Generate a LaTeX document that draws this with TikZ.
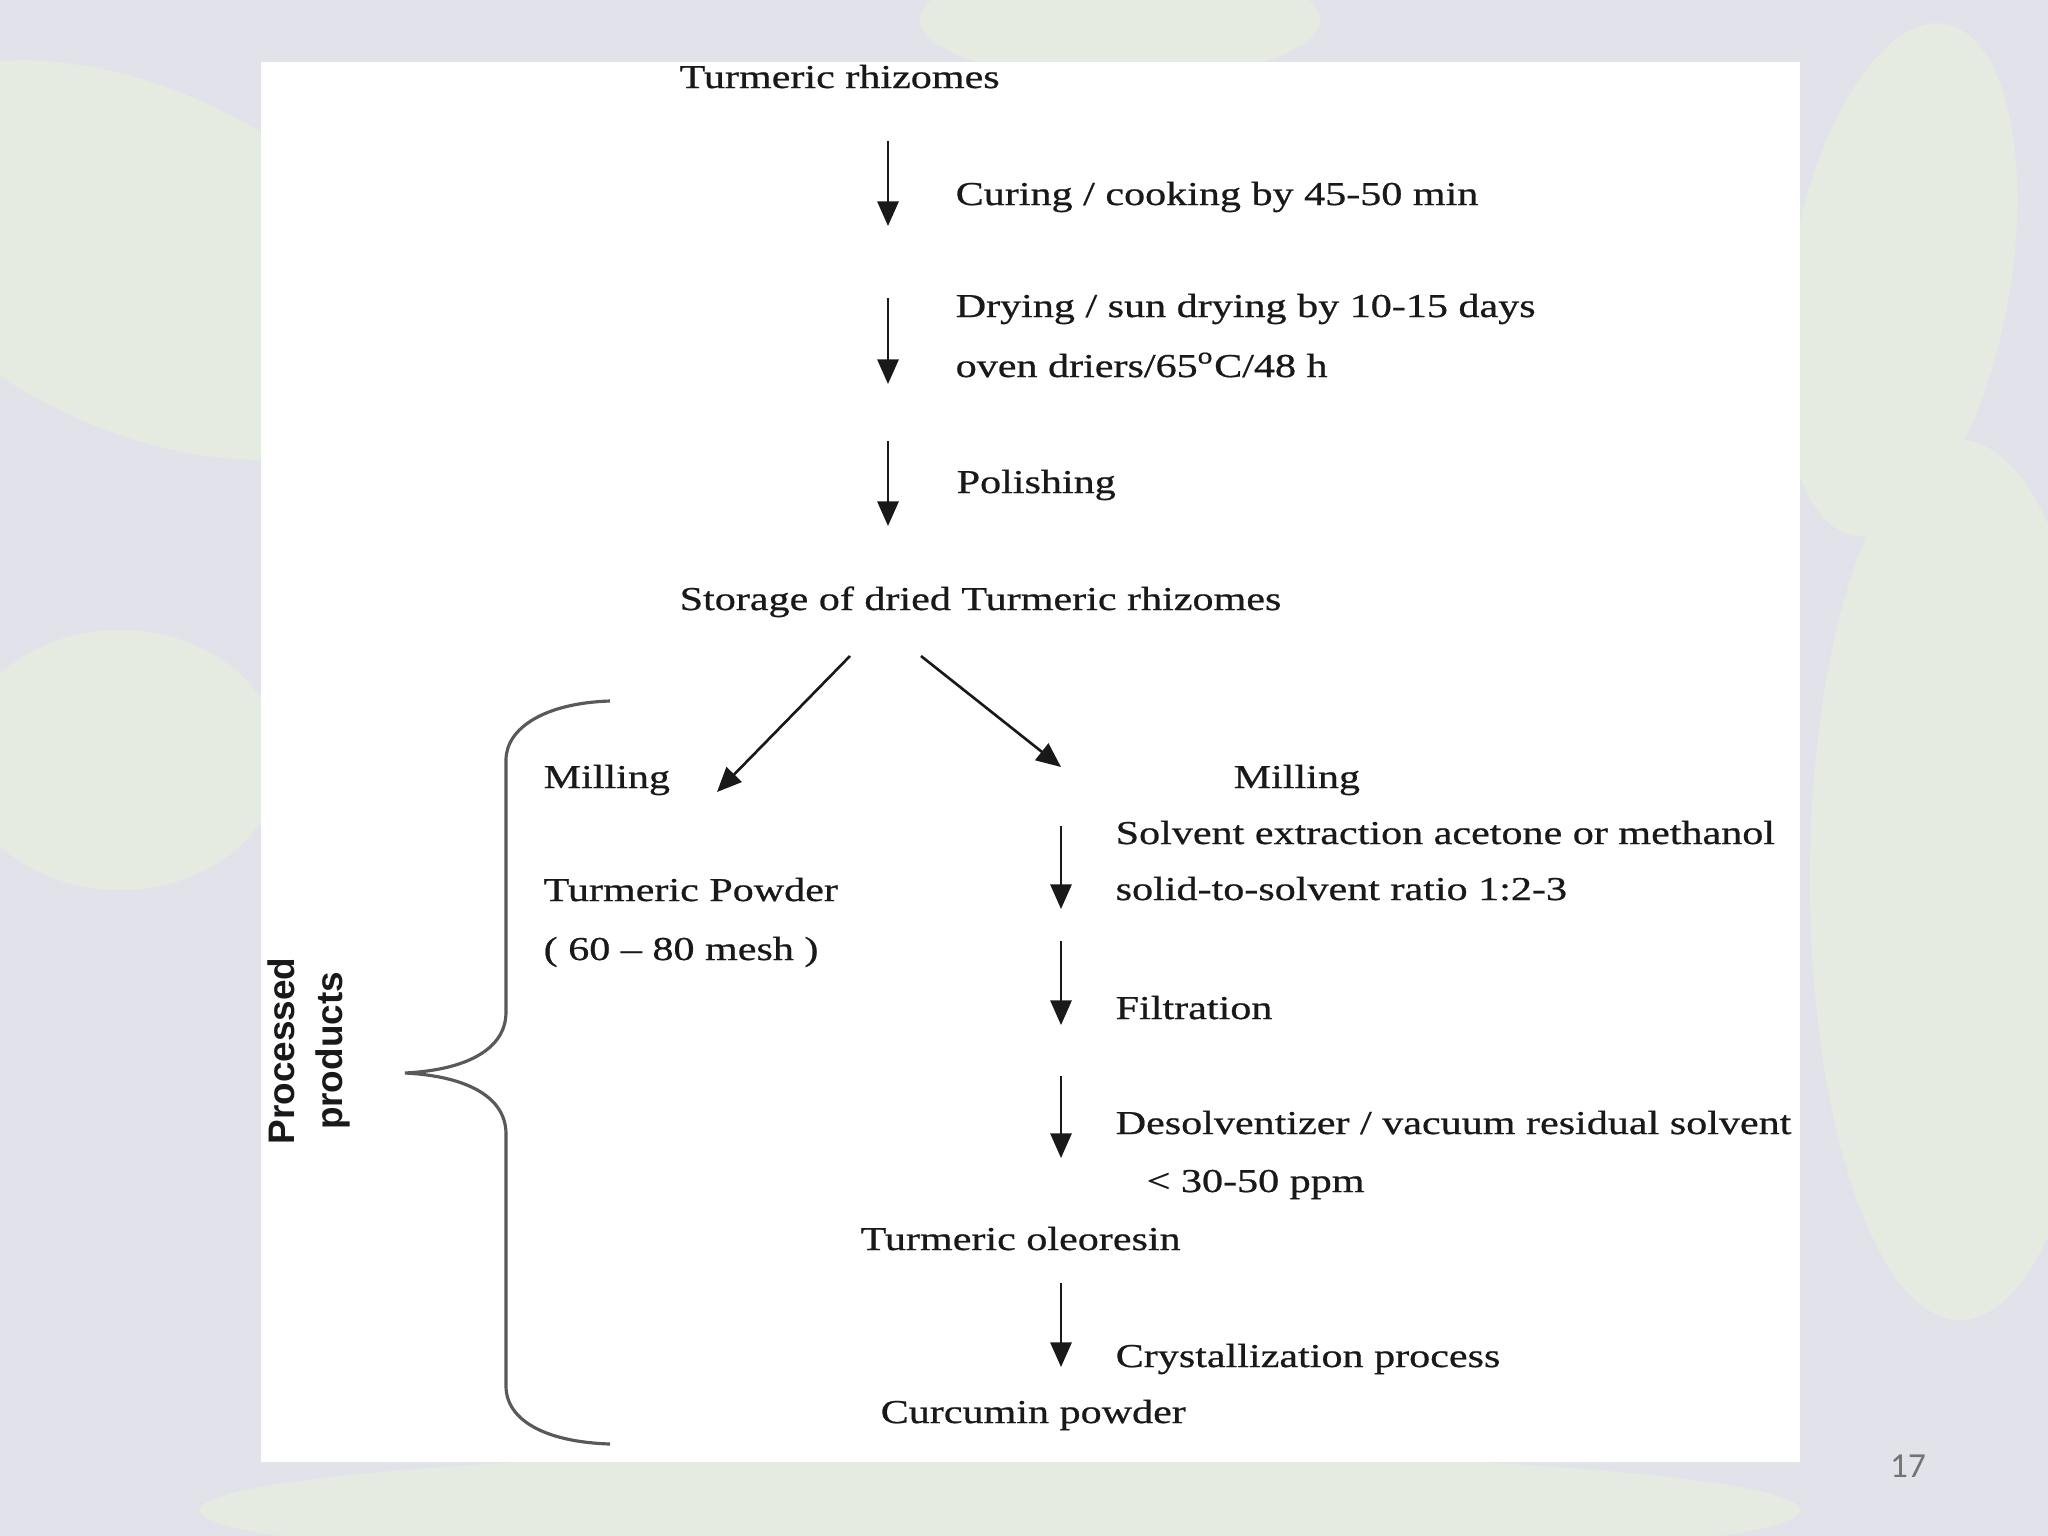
\documentclass[tikz,border=0pt]{standalone}
\usepackage{fontspec}
\setmainfont{Liberation Serif}[FakeStretch=1.26, FakeBold=0.7]
\newfontfamily\rotulofont{Liberation Sans}
\newfontfamily\paginafont{Carlito}
\usetikzlibrary{arrows.meta}
\definecolor{fondo}{RGB}{226,227,234}
\definecolor{hoja}{RGB}{229,235,224}
\definecolor{tinta}{RGB}{25,25,25}

\begin{document}
\begin{tikzpicture}[x=0.01cm, y=-0.01cm,
        etiqueta/.style={font=\fontsize{9.5}{11}\selectfont, text=tinta, inner sep=0pt, anchor=base west},
        flecha/.style={draw=tinta, line width=0.75pt, -{Triangle[length=7pt,width=6pt]}},
        llave/.style={draw=black!65, line width=0.9pt}
    ]
        \useasboundingbox (0,0) rectangle (2048,1536);
        \clip (0,0) rectangle (2048,1536);

        % Fondo de la diapositiva con hojas difuminadas
        \fill[fondo] (0,0) rectangle (2048,1536);
        \fill[hoja] (140,260) ellipse [x radius=300, y radius=170, rotate=-25];
        \fill[hoja] (120,760) ellipse [x radius=160, y radius=130];
        \fill[hoja] (1120,20) ellipse [x radius=200, y radius=60];
        \fill[hoja] (1900,280) ellipse [x radius=110, y radius=260, rotate=-10];
        \fill[hoja] (1960,880) ellipse [x radius=150, y radius=440];
        \fill[hoja] (1000,1510) ellipse [x radius=800, y radius=60];

        % Panel blanco
        \fill[white] (261,62) rectangle (1800,1462);

        % Cadena principal
        \node[etiqueta] (rizomas) at (679,88) {Turmeric rhizomes};
        \node[etiqueta] (curado) at (955,205) {Curing / cooking by 45-50 min};
        \node[etiqueta] (secado) at (955,317) {Drying / sun drying by 10-15 days};
        \node[etiqueta] (horno) at (955,377) {oven driers/65\textsuperscript{o}C/48 h};
        \node[etiqueta] (pulido) at (956,493) {Polishing};
        \node[etiqueta] (almacen) at (679,610) {Storage of dried Turmeric rhizomes};

        \coordinate (f1a) at (888,141);
        \coordinate (f1b) at (888,226);
        \coordinate (f2a) at (888,298);
        \coordinate (f2b) at (888,384);
        \coordinate (f3a) at (888,441);
        \coordinate (f3b) at (888,526);
        \draw[flecha] (f1a) -- (f1b);
        \draw[flecha] (f2a) -- (f2b);
        \draw[flecha] (f3a) -- (f3b);

        % Bifurcacion
        \coordinate (izqa) at (850,656);
        \coordinate (izqb) at (717,792);
        \coordinate (dera) at (921,656);
        \coordinate (derb) at (1061,767);
        \draw[flecha] (izqa) -- (izqb);
        \draw[flecha] (dera) -- (derb);

        % Rama izquierda: polvo
        \node[etiqueta] (molidoA) at (543,788) {Milling};
        \node[etiqueta] (polvo) at (543,901) {Turmeric Powder};
        \node[etiqueta] (malla) at (543,960) {( 60 -- 80 mesh )};

        % Rama derecha: oleorresina y curcumina
        \node[etiqueta] (molidoB) at (1233,788) {Milling};
        \node[etiqueta] (solvente) at (1115,844) {Solvent extraction acetone or methanol};
        \node[etiqueta] (relacion) at (1115,900) {solid-to-solvent ratio 1:2-3};
        \node[etiqueta] (filtrado) at (1115,1019) {Filtration};
        \node[etiqueta] (desolv) at (1115,1134) {Desolventizer / vacuum residual solvent};
        \node[etiqueta] (ppm) at (1146,1192) {< 30-50 ppm};
        \node[etiqueta] (oleorresina) at (860,1250) {Turmeric oleoresin};
        \node[etiqueta] (cristal) at (1115,1367) {Crystallization process};
        \node[etiqueta] (curcumina) at (880,1423) {Curcumin powder};

        \coordinate (r1a) at (1061,826);
        \coordinate (r1b) at (1061,909);
        \coordinate (r2a) at (1061,941);
        \coordinate (r2b) at (1061,1025);
        \coordinate (r3a) at (1061,1076);
        \coordinate (r3b) at (1061,1158);
        \coordinate (r4a) at (1061,1283);
        \coordinate (r4b) at (1061,1367);
        \draw[flecha] (r1a) -- (r1b);
        \draw[flecha] (r2a) -- (r2b);
        \draw[flecha] (r3a) -- (r3b);
        \draw[flecha] (r4a) -- (r4b);

        % Llave de productos procesados
        \draw[llave] (610,701) .. controls (545,703) and (506,728) .. (506,760)
            -- (506,1012) .. controls (506,1050) and (465,1070) .. (405,1073)
            .. controls (465,1076) and (506,1096) .. (506,1134)
            -- (506,1386) .. controls (506,1420) and (545,1442) .. (610,1444);
        \node[rotate=90, align=center, text=tinta, inner sep=0pt,
              font=\rotulofont\bfseries\fontsize{10.5}{13.5}\selectfont] (procesados) at (309,1051) {Processed\\products};

        % Numero de pagina
        \node[text=black!55, font=\paginafont\fontsize{10}{12}\selectfont] (pagina) at (1908,1466) {17};
    \end{tikzpicture}
\end{document}
